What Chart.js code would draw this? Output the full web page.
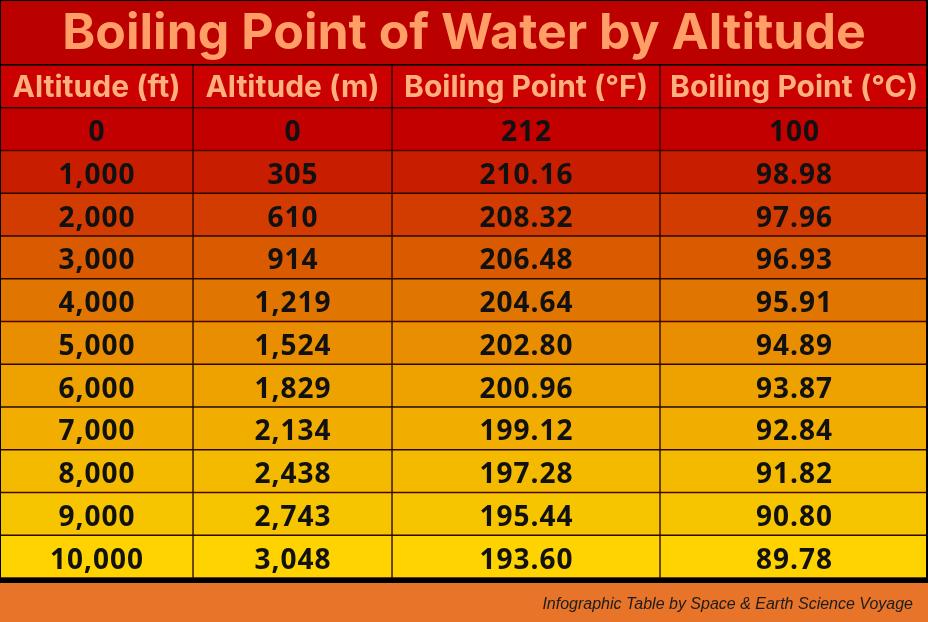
<!DOCTYPE html>
<html>
<head>
<meta charset="utf-8">
<title>Boiling Point of Water by Altitude</title>
<script src="https://cdn.jsdelivr.net/npm/chart.js@4.4.1/dist/chart.umd.min.js"></script>
<style>
  html, body { margin: 0; padding: 0; background: #bb0000; }
  canvas { display: block; }
</style>
</head>
<body>
<canvas id="boilingChart" width="928" height="622"></canvas>
<script>
// table data
const colHeaders = ["Altitude (ft)", "Altitude (m)", "Boiling Point (°F)", "Boiling Point (°C)"];
const altitudeFt = ["0", "1,000", "2,000", "3,000", "4,000", "5,000", "6,000", "7,000", "8,000", "9,000", "10,000"];
const altitudeM = ["0", "305", "610", "914", "1,219", "1,524", "1,829", "2,134", "2,438", "2,743", "3,048"];
const boilingF = ["212", "210.16", "208.32", "206.48", "204.64", "202.80", "200.96", "199.12", "197.28", "195.44", "193.60"];
const boilingC = ["100", "98.98", "97.96", "96.93", "95.91", "94.89", "93.87", "92.84", "91.82", "90.80", "89.78"];
const footerText = "Infographic Table by Space & Earth Science Voyage";

// look of the table
const colWidths = [193, 199, 268, 268];
const headerColor = "#cb0000";
const rowColors = ["#c20000", "#c91d00", "#d23c00", "#da5a00", "#e07600", "#e88e00", "#eda200", "#f1ae00", "#f4ba00", "#f7c500", "#fed300"];

const columns = [altitudeFt, altitudeM, boilingF, boilingC];
const rowLabels = ["header"].concat(altitudeFt);

const datasets = columns.map((col, j) => ({
  label: colHeaders[j],
  data: rowLabels.map(() => colWidths[j]),
  backgroundColor: [headerColor].concat(rowColors),
  borderColor: "#2a0800",
  borderWidth: 1,
  borderSkipped: false,
  barPercentage: 1,
  categoryPercentage: 1,
}));

// backgrounds for title band and footer
const frame = {
  id: "frame",
  beforeDraw(chart) {
    const { ctx, width, height, chartArea } = chart;
    ctx.save();
    ctx.fillStyle = "#bb0000";
    ctx.fillRect(0, 0, width, chartArea.top);
    ctx.fillStyle = "#e8742a";
    ctx.fillRect(0, chartArea.bottom, width, height - chartArea.bottom);
    ctx.restore();
  },
  afterDraw(chart) {
    const { ctx, width, chartArea } = chart;
    ctx.save();
    ctx.fillStyle = "#000";
    ctx.fillRect(0, chartArea.bottom, width, 5);
    ctx.fillRect(0, 0, width, 1);
    ctx.fillRect(0, 0, 1, chartArea.bottom);
    ctx.fillRect(width - 2, 0, 2, chartArea.bottom);
    ctx.fillRect(0, chartArea.top - 1, width, 1);
    ctx.font = "italic 16px 'Liberation Sans', Arial, sans-serif";
    ctx.fillStyle = "#1c1c1c";
    ctx.textAlign = "right";
    ctx.textBaseline = "alphabetic";
    ctx.fillText(footerText, width - 15, chartArea.bottom + 31);
    ctx.restore();
  },
};

// cell texts, placed on the bars
const cellText = {
  id: "cellText",
  afterDatasetsDraw(chart) {
    const { ctx } = chart;
    ctx.save();
    ctx.textAlign = "center";
    ctx.textBaseline = "alphabetic";
    chart.data.datasets.forEach((ds, j) => {
      const meta = chart.getDatasetMeta(j);
      meta.data.forEach((bar, i) => {
        const cx = (bar.x + bar.base) / 2;
        if (i === 0) {
          ctx.letterSpacing = "0px";
          ctx.font = "bold 30px Inter, sans-serif";
          ctx.fillStyle = "#ffb07c";
          ctx.fillText(colHeaders[j], cx, bar.y + 11);
        } else {
          ctx.letterSpacing = "1px";
          ctx.font = "bold 28px 'Open Sans', sans-serif";
          ctx.fillStyle = "#111";
          ctx.fillText(columns[j][i - 1], cx + 0.5, bar.y + 12);
        }
      });
    });
    ctx.restore();
  },
};

new Chart(document.getElementById("boilingChart"), {
  type: "bar",
  data: { labels: rowLabels, datasets: datasets },
  options: {
    indexAxis: "y",
    responsive: false,
    animation: false,
    layout: { padding: { top: 0, bottom: 44, left: 0, right: 0 } },
    scales: {
      x: { stacked: true, min: 0, max: colWidths.reduce((a, b) => a + b, 0), display: false },
      y: { stacked: true, display: false, grid: { display: false } },
    },
    plugins: {
      legend: { display: false },
      tooltip: { enabled: false },
      title: {
        display: true,
        text: "Boiling Point of Water by Altitude",
        color: "#ff9e66",
        font: { family: "Inter, sans-serif", size: 50, weight: "bold", lineHeight: 1.1 },
        padding: { top: 6, bottom: 4 },
      },
    },
  },
  plugins: [frame, cellText],
});
</script>
</body>
</html>
